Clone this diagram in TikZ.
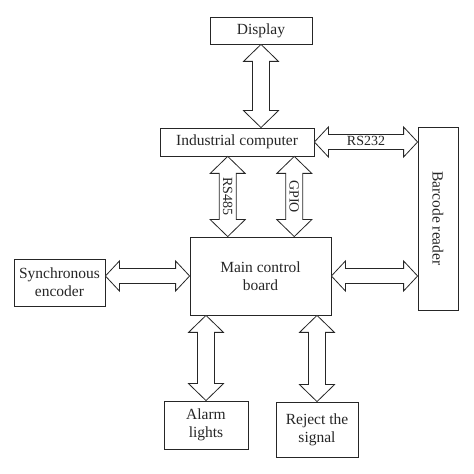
\documentclass[tikz,border=0pt]{standalone}
\usepackage{fontspec}
\setmainfont{Liberation Serif}
\usetikzlibrary{calc}
\definecolor{Ink}{HTML}{262626}

% vertical double block arrow: x taken from #2, ends at y of #2 and #3
\newcommand{\vbiarrow}[3][]{%
  \draw[blockarr] let \p1=(#2), \p2=(#3) in
    (\x1,\y1) -- (\x1+17.5pt,\y1-17pt) -- (\x1+8.5pt,\y1-17pt)
    -- (\x1+8.5pt,\y2+17pt) -- (\x1+17.5pt,\y2+17pt) -- (\x1,\y2)
    -- (\x1-17.5pt,\y2+17pt) -- (\x1-8.5pt,\y2+17pt)
    -- (\x1-8.5pt,\y1-17pt) -- (\x1-17.5pt,\y1-17pt) -- cycle
    \if\relax\detokenize{#1}\relax\else
      (\x1,{(\y1+\y2)/2}) node[arrlabel,rotate=-90] {#1}
    \fi;}
% horizontal double block arrow: y taken from #2, ends at x of #2 and #3
\newcommand{\hbiarrow}[3][]{%
  \draw[blockarr] let \p1=(#2), \p2=(#3) in
    (\x1,\y1) -- (\x1+14pt,\y1+15pt) -- (\x1+14pt,\y1+7.5pt)
    -- (\x2-14pt,\y1+7.5pt) -- (\x2-14pt,\y1+15pt) -- (\x2,\y1)
    -- (\x2-14pt,\y1-15pt) -- (\x2-14pt,\y1-7.5pt)
    -- (\x1+14pt,\y1-7.5pt) -- (\x1+14pt,\y1-15pt) -- cycle
    \if\relax\detokenize{#1}\relax\else
      ({(\x1+\x2)/2},\y1+1pt) node[arrlabel] {#1}
    \fi;}

\begin{document}
\begin{tikzpicture}[x=1pt,y=1pt,
    box/.style={draw=Ink,line width=0.8pt,inner sep=2pt,align=center,
      text=Ink,font=\fontsize{15.5}{18}\selectfont},
    blockarr/.style={draw=Ink,line width=0.8pt,fill=white,line join=miter},
    arrlabel/.style={inner sep=0pt,text=Ink,font=\fontsize{14}{16}\selectfont}
  ]
    \useasboundingbox (0,0) rectangle (474,474);
    \node[box,minimum width=102,minimum height=27] (disp) at (261,443.5) {Display};
    \node[box,minimum width=154,minimum height=28] (ind) at (237,332) {Industrial computer};
    \node[box,minimum width=40,minimum height=183] (bar) at (438,255.5) {};
    \node[text=Ink,font=\fontsize{15.5}{18}\selectfont,rotate=-90] (barlab) at (bar.center) {Barcode reader};
    \node[box,minimum width=141,minimum height=78] (main) at (260.5,198) {Main control\\board};
    \node[box,minimum width=91,minimum height=47] (sync) at (59.5,191.5) {Synchronous\\encoder};
    \node[box,minimum width=84,minimum height=48] (alarm) at (206,49) {Alarm\\lights};
    \node[box,minimum width=82,minimum height=55] (rej) at (317,44.5) {Reject the\\signal};

    \vbiarrow{disp.south}{ind.north}
    \hbiarrow[RS232]{ind.east}{bar.west}
    \vbiarrow[RS485]{$(ind.south west)!0.44!(ind.south east)$}{main.north}
    \vbiarrow[GPIO]{$(ind.south west)!0.87!(ind.south east)$}{main.north}
    \hbiarrow{sync.east |- main.west}{main.west}
    \hbiarrow{main.east}{bar.west}
    \vbiarrow{main.south -| alarm.north}{alarm.north}
    \vbiarrow{main.south -| rej.north}{rej.north}
\end{tikzpicture}
\end{document}
